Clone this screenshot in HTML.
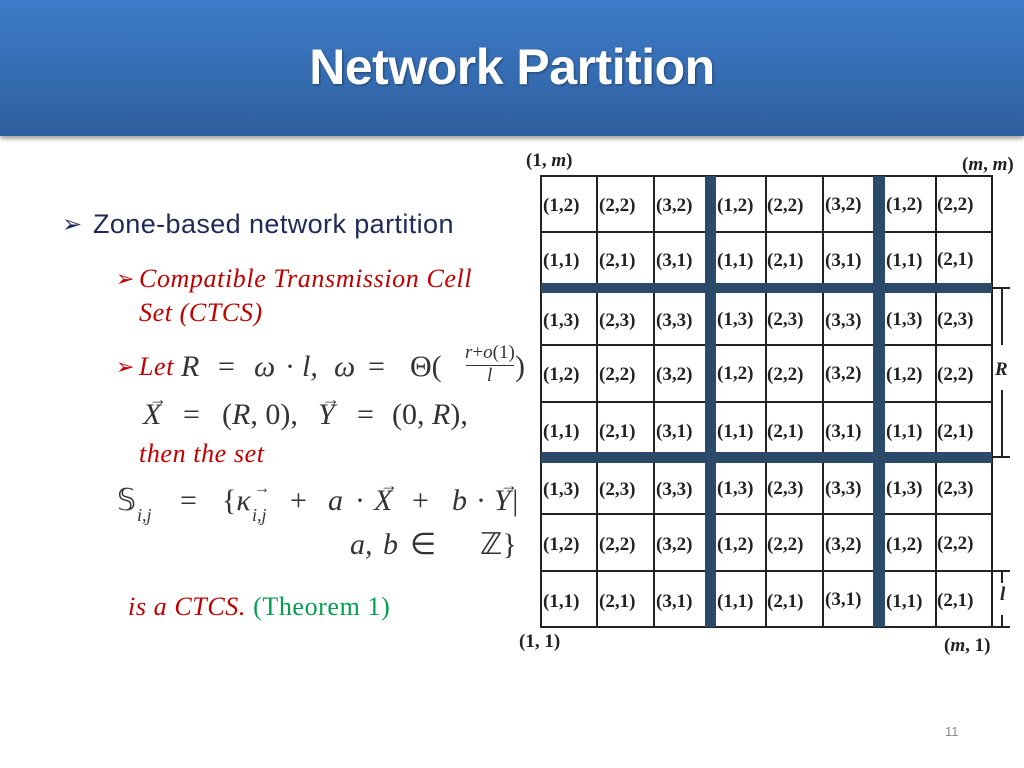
<!DOCTYPE html>
<html><head><meta charset="utf-8"><style>
body{margin:0;width:1024px;height:768px;background:#fff;position:relative;overflow:hidden;font-family:"Liberation Sans",sans-serif}
.t{position:absolute;white-space:nowrap}
.hdr{position:absolute;left:0;top:0;width:1024px;height:136px;background:linear-gradient(#3d7cc9,#2f5f9e);box-shadow:0 3px 4px rgba(0,0,0,.35)}
.red{color:#c00000;font-family:"Liberation Serif",serif;font-style:italic;font-size:26px;letter-spacing:0.6px}
.m{position:absolute;white-space:nowrap;font-family:"Liberation Serif",serif;color:#333;font-size:30px;line-height:30px}
.i{font-style:italic}
</style></head><body>
<div class="hdr"></div>
<div class="t" style="left:0;width:1024px;text-align:center;top:38px;color:#fff;font-weight:bold;font-size:50px;letter-spacing:-0.5px;text-shadow:1px 1px 2px rgba(0,0,0,.4)">Network Partition</div>

<div class="t" style="left:62px;top:210px;font-size:24px;color:#1f2a5a">➢</div>
<div class="t" style="left:93px;top:209px;font-size:27px;letter-spacing:0.4px;color:#1f2a5a">Zone-based network partition</div>
<div class="t" style="left:116px;top:266px;font-size:22px;color:#c00000">➢</div>
<div class="t red" style="left:139px;top:264px">Compatible Transmission Cell</div>
<div class="t red" style="left:139px;top:298px">Set (CTCS)</div>
<div class="t" style="left:116px;top:354px;font-size:22px;color:#c00000">➢</div>
<div class="t red" style="left:139px;top:352px">Let</div>

<div class="m i" style="left:181px;top:352px">R</div>
<div class="m" style="left:218px;top:352px">=</div>
<div class="m i" style="left:254px;top:352px">ω</div>
<div class="m" style="left:285px;top:352px">·</div>
<div class="m i" style="left:302px;top:352px">l,</div>
<div class="m i" style="left:334px;top:352px">ω</div>
<div class="m" style="left:368px;top:352px">=</div>
<div class="m" style="left:410px;top:352px">Θ(</div>
<div class="m" style="left:465px;top:343px;font-size:19px;line-height:19px"><i>r</i>+<i>o</i>(1)</div>
<div class="t" style="left:466px;top:365px;width:48px;border-top:1px solid #333"></div>
<div class="m i" style="left:487px;top:366px;font-size:19px;line-height:19px">l</div>
<div class="m" style="left:515px;top:352px">)</div>

<div class="m i" style="left:143px;top:400px">X</div>
<div class="m" style="left:149px;top:384px;font-size:18px">→</div>
<div class="m" style="left:183px;top:400px">=</div>
<div class="m" style="left:222px;top:400px">(<i>R</i>, 0),</div>
<div class="m i" style="left:318px;top:400px">Y</div>
<div class="m" style="left:322px;top:384px;font-size:18px">→</div>
<div class="m" style="left:357px;top:400px">=</div>
<div class="m" style="left:392px;top:400px">(0, <i>R</i>),</div>

<div class="t red" style="left:139px;top:439px">then the set</div>

<div class="m" style="left:117px;top:486px">𝕊</div>
<div class="m i" style="left:137px;top:500px;font-size:18px">i,j</div>
<div class="m" style="left:180px;top:486px">=</div>
<div class="m" style="left:222px;top:486px">{<i>κ</i></div>
<div class="m i" style="left:252px;top:500px;font-size:18px">i,j</div>
<div class="m" style="left:254px;top:474px;font-size:16px">→</div>
<div class="m" style="left:290px;top:486px">+</div>
<div class="m i" style="left:328px;top:486px">a</div>
<div class="m" style="left:355px;top:486px">·</div>
<div class="m i" style="left:374px;top:486px">X</div>
<div class="m" style="left:380px;top:470px;font-size:18px">→</div>
<div class="m" style="left:412px;top:486px">+</div>
<div class="m i" style="left:452px;top:486px">b</div>
<div class="m" style="left:476px;top:486px">·</div>
<div class="m i" style="left:494px;top:486px">Y|</div>
<div class="m" style="left:500px;top:470px;font-size:18px">→</div>

<div class="m i" style="left:350px;top:530px">a,</div>
<div class="m i" style="left:383px;top:530px">b</div>
<div class="m" style="left:410px;top:530px">∈</div>
<div class="m" style="left:480px;top:530px">ℤ}</div>

<div class="t red" style="left:128px;top:592px">is a CTCS. <span style="font-style:normal;color:#00a050">(Theorem 1)</span></div>

<div class="t" style="left:945px;top:724px;font-size:13px;color:#888">11</div>

<svg class="t" style="left:0;top:0" width="1024" height="768">
<g stroke="#222" stroke-width="2" fill="none">
<rect x="541" y="176" width="451" height="451"/>
<path d="M597 176V627M654 176V627M766 176V627M823 176V627M936 176V627M541 232H992M541 345H992M541 402H992M541 514H992M541 571H992"/>
<path d="M992 288H1010M1002 288V345M1002 390V457M992 457H1010M992 571H1010M1002 571V583M1002 615V627M992 627H1010"/>
</g>
<g fill="#2b4a6a"><rect x="705" y="176" width="11" height="451"/><rect x="873" y="176" width="12" height="451"/><rect x="541" y="283" width="451" height="10"/><rect x="541" y="452" width="451" height="11"/></g>
<g font-family="Liberation Serif,serif" font-weight="bold" font-size="19" fill="#222">
<text x="526" y="166">(1, <tspan font-style="italic">m</tspan>)</text>
<text x="962" y="170">(<tspan font-style="italic">m</tspan>, <tspan font-style="italic">m</tspan>)</text>
<text x="519" y="647">(1, 1)</text>
<text x="944" y="651">(<tspan font-style="italic">m</tspan>, 1)</text>
<text x="995" y="375" font-style="italic">R</text>
<text x="1000" y="600" font-style="italic">l</text>
</g>
<g font-family="Liberation Serif,serif" font-weight="bold" font-size="19" fill="#222">
<g><text x="543" y="211">(1,2)</text><text x="599" y="211">(2,2)</text><text x="656" y="211">(3,2)</text><text x="717" y="211">(1,2)</text><text x="767" y="211">(2,2)</text><text x="825" y="210">(3,2)</text><text x="886" y="210">(1,2)</text><text x="937" y="210">(2,2)</text></g>
<g><text x="543" y="266">(1,1)</text><text x="599" y="266">(2,1)</text><text x="656" y="266">(3,1)</text><text x="717" y="266">(1,1)</text><text x="767" y="266">(2,1)</text><text x="825" y="266">(3,1)</text><text x="886" y="266">(1,1)</text><text x="937" y="265">(2,1)</text></g>
<g><text x="543" y="326">(1,3)</text><text x="599" y="326">(2,3)</text><text x="656" y="326">(3,3)</text><text x="717" y="325">(1,3)</text><text x="767" y="325">(2,3)</text><text x="825" y="326">(3,3)</text><text x="886" y="325">(1,3)</text><text x="937" y="325">(2,3)</text></g>
<g><text x="543" y="380">(1,2)</text><text x="599" y="380">(2,2)</text><text x="656" y="380">(3,2)</text><text x="717" y="379">(1,2)</text><text x="767" y="380">(2,2)</text><text x="825" y="379">(3,2)</text><text x="886" y="380">(1,2)</text><text x="937" y="380">(2,2)</text></g>
<g><text x="543" y="437">(1,1)</text><text x="599" y="437">(2,1)</text><text x="656" y="437">(3,1)</text><text x="717" y="437">(1,1)</text><text x="767" y="437">(2,1)</text><text x="825" y="437">(3,1)</text><text x="886" y="437">(1,1)</text><text x="937" y="437">(2,1)</text></g>
<g><text x="543" y="495">(1,3)</text><text x="599" y="495">(2,3)</text><text x="656" y="495">(3,3)</text><text x="717" y="494">(1,3)</text><text x="767" y="494">(2,3)</text><text x="825" y="494">(3,3)</text><text x="886" y="494">(1,3)</text><text x="937" y="494">(2,3)</text></g>
<g><text x="543" y="550">(1,2)</text><text x="599" y="550">(2,2)</text><text x="656" y="550">(3,2)</text><text x="717" y="550">(1,2)</text><text x="767" y="550">(2,2)</text><text x="825" y="550">(3,2)</text><text x="886" y="550">(1,2)</text><text x="937" y="549">(2,2)</text></g>
<g><text x="543" y="607">(1,1)</text><text x="599" y="607">(2,1)</text><text x="656" y="607">(3,1)</text><text x="717" y="607">(1,1)</text><text x="767" y="607">(2,1)</text><text x="825" y="605">(3,1)</text><text x="886" y="607">(1,1)</text><text x="937" y="606">(2,1)</text></g>
</g>
</svg>
</body></html>
